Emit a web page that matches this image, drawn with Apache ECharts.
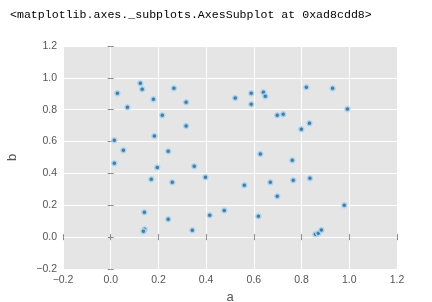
<!DOCTYPE html>
<html><head><meta charset="utf-8">
<script src="https://cdn.jsdelivr.net/npm/echarts@6/dist/echarts.min.js"></script>
<style>html,body{margin:0;padding:0;background:#fff}#c{width:432px;height:302px}</style>
</head><body><div id="c"></div>
<script>
var titleText = "<matplotlib.axes._subplots.AxesSubplot at 0xad8cdd8>";
var xName = "a";
var yName = "b";
var aValues = [0.028,0.070,0.124,0.132,0.179,0.265,0.316,0.216,0.316,0.183,0.015,0.053,0.522,
  0.015,0.241,0.195,0.170,0.258,0.350,0.397,0.141,0.241,0.142,0.137,0.342,0.415,0.476,
  0.589,0.589,0.640,0.648,0.820,0.930,0.992,0.698,0.723,0.833,0.799,0.627,
  0.761,0.560,0.669,0.765,0.835,0.698,0.619,0.979,0.858,0.870,0.883];
var bValues = [0.903,0.815,0.966,0.928,0.865,0.934,0.847,0.765,0.698,0.635,0.608,0.545,0.874,
  0.464,0.539,0.438,0.363,0.344,0.445,0.376,0.156,0.112,0.049,0.037,0.043,0.137,0.168,
  0.903,0.834,0.909,0.884,0.941,0.934,0.804,0.765,0.771,0.715,0.677,0.522,
  0.482,0.326,0.344,0.357,0.369,0.256,0.131,0.200,0.018,0.024,0.045];
var xMin = -0.2, xMax = 1.2, yMin = -0.2, yMax = 1.2, tickStep = 0.2;

var pts = aValues.map(function(v, i){ return [v, bValues[i]]; });
var fmt = function(v){ var s = (Math.round(v*10)/10).toFixed(1); return s.replace('-', '\u2212'); };
var lblStyle = {color:'#555', fontSize:10.5, fontFamily:'Liberation Sans, Arial, sans-serif'};
var tickStyle = {show:true, inside:false, length:3, lineStyle:{color:'#888', width:1}};
var chart = echarts.init(document.getElementById('c'), null, {renderer:'canvas'});
chart.setOption({
  animation:false,
  backgroundColor:'#fff',
  title:{text:titleText, left:5, top:4, textStyle:{fontFamily:'Liberation Mono, DejaVu Sans Mono, monospace', fontSize:11.6, fontWeight:'normal', color:'#000'}},
  grid:{left:63, right:35, top:46, bottom:33, show:true, backgroundColor:'#E5E5E5', borderWidth:0, containLabel:false, outerBoundsMode:'none'},
  xAxis:[{type:'value', min:xMin, max:xMax, interval:tickStep, name:xName, nameLocation:'middle', nameGap:22,
    nameTextStyle:{color:'#555', fontSize:13, fontFamily:'Liberation Sans, Arial, sans-serif'},
    axisLine:{show:false}, axisTick:tickStyle, splitLine:{show:true, lineStyle:{color:'#fff', width:1}},
    axisLabel:Object.assign({margin:6, formatter:fmt}, lblStyle)},
    {type:'value', position:'top', min:xMin, max:xMax, interval:tickStep, axisLine:{show:false}, axisTick:tickStyle, axisLabel:{show:false}, splitLine:{show:false}}],
  yAxis:[{type:'value', min:yMin, max:yMax, interval:tickStep, name:yName, nameLocation:'middle', nameGap:44,
    nameTextStyle:{color:'#555', fontSize:13, fontFamily:'Liberation Sans, Arial, sans-serif'},
    axisLine:{show:false}, axisTick:tickStyle, splitLine:{show:true, lineStyle:{color:'#fff', width:1}},
    axisLabel:Object.assign({margin:6, formatter:fmt}, lblStyle)},
    {type:'value', position:'right', min:yMin, max:yMax, interval:tickStep, axisLine:{show:false}, axisTick:tickStyle, axisLabel:{show:false}, splitLine:{show:false}}],
  series:[{type:'scatter', data:pts, symbol:'circle', symbolSize:5,
    itemStyle:{color:'#3a7fae', borderColor:'rgba(175,215,240,0.9)', borderWidth:1.5, opacity:1}}]
});
</script></body></html>
